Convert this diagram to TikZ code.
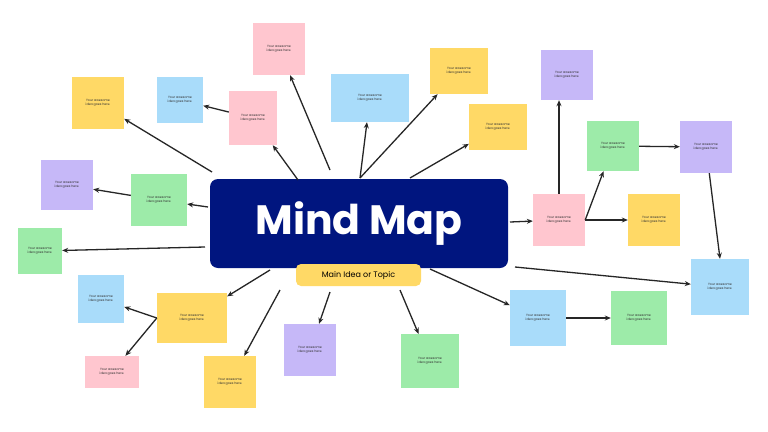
\documentclass[tikz,border=0pt]{standalone}
\usepackage{fontspec}
\setmainfont{Poppins}
\usetikzlibrary{arrows.meta}
\definecolor{cy}{HTML}{FFD966}\definecolor{cb}{HTML}{A9DCFA}\definecolor{cp}{HTML}{FFC6CF}
\definecolor{cu}{HTML}{C6B8F8}\definecolor{cg}{HTML}{9DEBA9}\definecolor{navy}{HTML}{00157F}
\begin{document}
\begin{tikzpicture}[x=1pt,y=-1pt,
 note/.style={inner sep=0pt,align=center,font=\fontsize{3.2}{4}\selectfont,text=black!80},
 con/.style={-{Stealth[length=6pt,width=5pt]},line width=1.3pt,black!85}]
\fill[white] (0,0) rectangle (768,431);
\newcommand\nt[6]{\node[note,fill=#6,minimum width=#4pt,minimum height=#5pt] (#1) at (#2,#3) {Your awesome\\idea goes here.};}
\nt{n1}{98}{103}{52}{52}{cy}
\nt{n2}{180}{100}{46}{46}{cb}
\nt{n3}{279}{49}{52}{52}{cp}
\nt{n4}{253}{118}{48}{54}{cp}
\nt{n5}{370}{98}{78}{48}{cb}
\nt{n6}{459}{71}{58}{46}{cy}
\nt{n7}{498}{127}{58}{46}{cy}
\nt{n8}{567}{75}{52}{50}{cu}
\nt{n9}{613}{146}{52}{50}{cg}
\nt{n10}{706}{147}{52}{52}{cu}
\nt{n11}{67}{185}{52}{50}{cu}
\nt{n12}{159}{200}{56}{52}{cg}
\nt{n13}{40}{251}{44}{46}{cg}
\nt{n14}{559}{220}{52}{52}{cp}
\nt{n15}{654}{220}{52}{52}{cy}
\nt{n16}{720}{287}{58}{56}{cb}
\nt{n17}{101}{299}{46}{48}{cb}
\nt{n18}{192}{318}{70}{50}{cy}
\nt{n19}{112}{372}{54}{32}{cp}
\nt{n20}{230}{382}{52}{52}{cy}
\nt{n21}{310}{350}{52}{52}{cu}
\nt{n22}{430}{361}{58}{54}{cg}
\nt{n23}{538}{318}{56}{56}{cb}
\nt{n24}{639}{318}{56}{54}{cg}
\node[fill=navy,rounded corners=8pt,minimum width=298pt,minimum height=89pt,text=white,font=\fontsize{41}{45}\selectfont\bfseries] (main) at (359,223.5) {Mind Map};
\node[fill=cy,rounded corners=5pt,minimum width=125pt,minimum height=22pt,font=\fontsize{8}{9}\selectfont] (pill) at (358.5,275) {Main Idea or Topic};
\coordinate (a1) at (212,172); \coordinate (a3) at (330,170); \coordinate (a4) at (298,180);
\coordinate (a5) at (360,178); \coordinate (a7) at (410,178); \coordinate (a16) at (515,267);
\coordinate (a23) at (430,269); \coordinate (a22) at (400,290); \coordinate (a21) at (330,292);
\coordinate (a20) at (280,290); \coordinate (a18) at (270,270); \coordinate (a13) at (205,247);
\coordinate (a12) at (208,207); \coordinate (a14) at (510,222);
\draw[con] (a1) -- (n1); \draw[con] (a3) -- (n3); \draw[con] (a4) -- (n4);
\draw[con] (n4) -- (n2); \draw[con] (a5) -- (n5); \draw[con] (a5) -- (n6);
\draw[con] (a7) -- (n7); \draw[con] (a14) -- (n14);
\draw[con] (n14.north) -- (n14.north|-n8.south); \draw[con] (n14.east) -- (n9); \draw[con] (n14.east) -- (n15);
\draw[con] (n9) -- (n10); \draw[con] (n10) -- (n16.north);
\draw[con] (a16) -- (n16); \draw[con] (a23) -- (n23); \draw[con] (n23) -- (n24);
\draw[con] (a22) -- (n22); \draw[con] (a21) -- (n21); \draw[con] (a20) -- (n20);
\draw[con] (a18) -- (n18); \draw[con] (n18.west) -- (n17); \draw[con] (n18.west) -- (n19);
\draw[con] (a13) -- (n13); \draw[con] (a12) -- (n12); \draw[con] (n12) -- (n11);
\end{tikzpicture}
\end{document}
